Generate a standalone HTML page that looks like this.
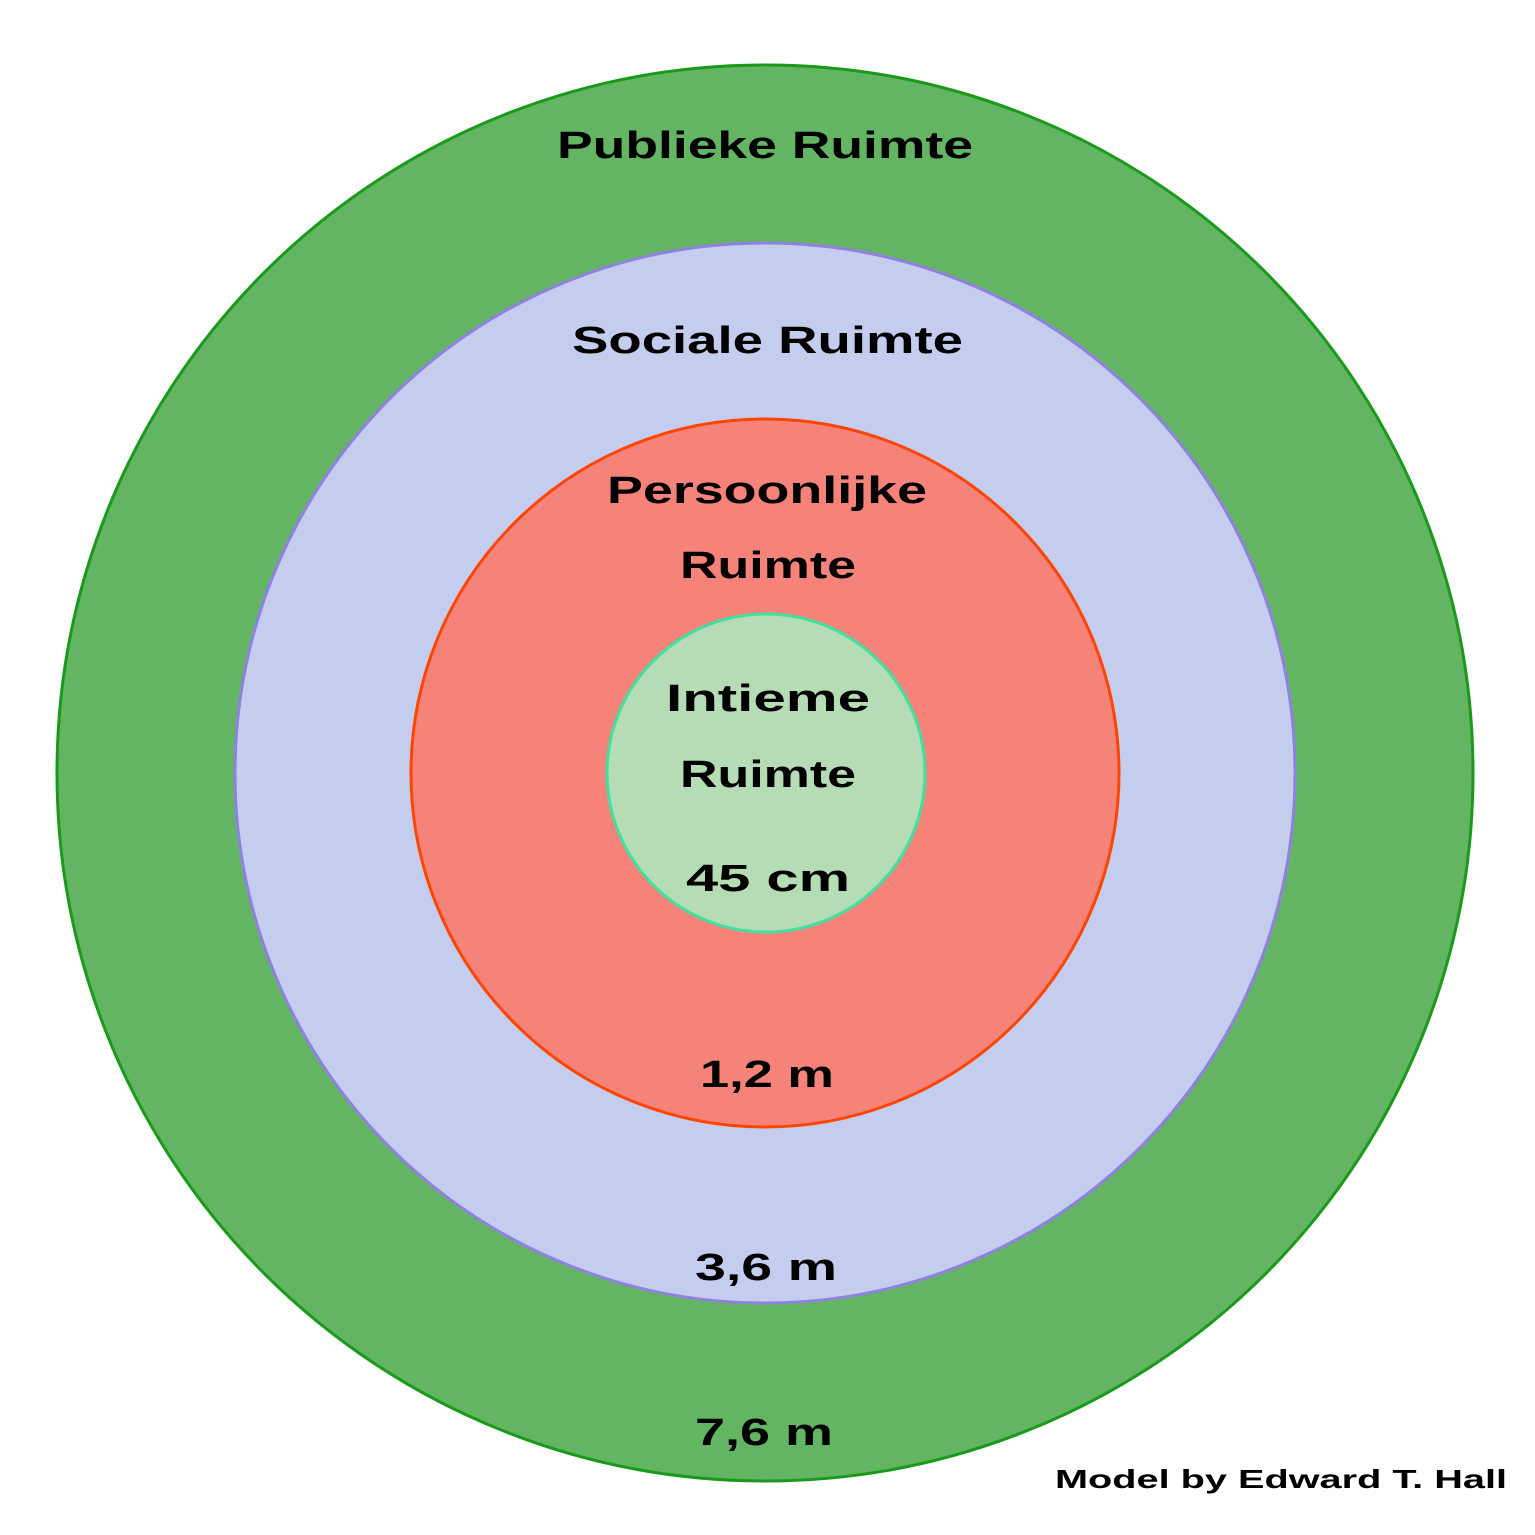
<!DOCTYPE html>
<html><head><meta charset="utf-8"><style>
html,body{margin:0;padding:0;background:#fff}
svg{display:block}
text{font-family:"Liberation Sans",sans-serif;fill:#000;font-weight:bold}
</style></head><body>
<svg width="1535" height="1535" viewBox="0 0 1535 1535" xmlns="http://www.w3.org/2000/svg">
<circle cx="765" cy="773" r="708" fill="#63b463" stroke="#1a9a1a" stroke-width="3"/>
<circle cx="765" cy="773" r="530" fill="#c5cdee" stroke="#9080e0" stroke-width="3"/>
<circle cx="765" cy="773" r="354" fill="#f6837a" stroke="#ff4500" stroke-width="3"/>
<circle cx="766" cy="773" r="159" fill="#b5dcb5" stroke="#40e0a0" stroke-width="3"/>
<g font-size="38">
<text x="557" y="158" textLength="416" lengthAdjust="spacingAndGlyphs">Publieke Ruimte</text>
<text x="572" y="353" textLength="391" lengthAdjust="spacingAndGlyphs">Sociale Ruimte</text>
<text x="607" y="503" textLength="320" lengthAdjust="spacingAndGlyphs">Persoonlijke</text>
<text x="680" y="578" textLength="176" lengthAdjust="spacingAndGlyphs">Ruimte</text>
<text x="666" y="711" textLength="204" lengthAdjust="spacingAndGlyphs">Intieme</text>
<text x="680" y="787" textLength="176" lengthAdjust="spacingAndGlyphs">Ruimte</text>
<text x="686" y="891" textLength="164" lengthAdjust="spacingAndGlyphs">45 cm</text>
<text x="700" y="1087" textLength="134" lengthAdjust="spacingAndGlyphs">1,2 m</text>
<text x="695" y="1280" textLength="142" lengthAdjust="spacingAndGlyphs">3,6 m</text>
<text x="695" y="1445" textLength="138" lengthAdjust="spacingAndGlyphs">7,6 m</text>
</g>
<text x="1055" y="1488" font-size="26" textLength="452" lengthAdjust="spacingAndGlyphs">Model by Edward T. Hall</text>
</svg>
</body></html>
